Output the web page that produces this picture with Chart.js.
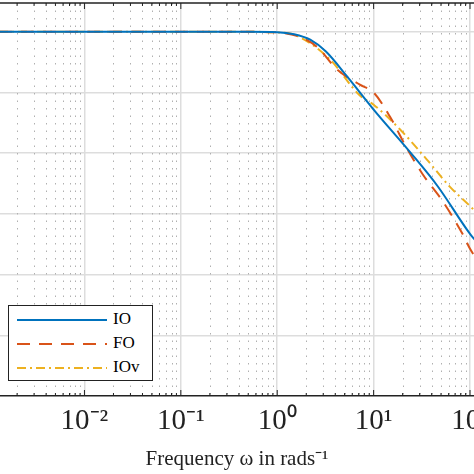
<!DOCTYPE html>
<html>
<head>
  <title></title>
  <style>
    body { margin: 0; background: #fff; }
    #wrap { position: relative; width: 474px; height: 474px; overflow: hidden; }
    #legend { position: absolute; left: 8px; top: 305px; width: 143px; height: 74px; border: 1.5px solid #222; background: #fff;
      font-family: "Liberation Serif", serif; font-size: 17px; }
    #legend div { height: 23px; line-height: 23px; margin-top: 1px; }
    #legend svg { vertical-align: middle; margin-left: 8px; margin-right: 6px; }
  </style>
</head>
<body>
  <div id="wrap">
    <canvas id="myChart" width="474" height="474"></canvas>
    <div id="legend">
      <div><svg width="90" height="6"><line x1="0" y1="3" x2="90" y2="3" stroke="#0072BD" stroke-width="2"/></svg>IO</div>
      <div><svg width="90" height="6"><line x1="0" y1="3" x2="90" y2="3" stroke="#D95319" stroke-width="2" stroke-dasharray="13,9"/></svg>FO</div>
      <div><svg width="90" height="6"><line x1="0" y1="3" x2="90" y2="3" stroke="#EDB120" stroke-width="2" stroke-dasharray="9,4,2,4"/></svg>IOv</div>
    </div>
  </div>
  <script src="https://cdn.jsdelivr.net/npm/chart.js"></script>
  <script>
    var freqIO = [0.0013, 0.1, 0.5, 1, 1.5, 2.2, 3.2, 5.3, 10, 24, 46, 100, 112];
    var magIO = [0, 0, 0, -0.1, -0.8, -2.6, -6.5, -14.7, -25.6, -39.7, -50.8, -66.6, -68.5];
    var freqFO = [0.0013, 0.1, 0.5, 1, 1.7, 2.6, 4.2, 7.2, 10, 14.8, 22.4, 32.4, 52.5, 85, 100, 112];
    var magFO = [0, 0, 0, -0.2, -1.6, -5, -12.5, -17.4, -20, -28, -38.7, -47, -56, -67, -71.5, -74];
    var freqIOv = [0.0013, 0.1, 0.5, 1, 1.6, 3.5, 7.2, 10, 18.6, 35.5, 61.6, 100, 112];
    var magIOv = [0, 0, 0, -0.2, -1.3, -9, -21, -24, -32, -42, -51, -57.4, -59];
    var supers = {'-3': '⁻³', '-2': '⁻²', '-1': '⁻¹', '0': '⁰', '1': '¹', '2': '²'};

    function pts(xs, ys) {
      var out = [];
      for (var i = 0; i < xs.length; i++) out.push({x: xs[i], y: ys[i]});
      return out;
    }

    var minorGrid = {
      id: 'minorGrid',
      beforeDatasetsDraw: function (chart) {
        var c = chart.ctx, xs = chart.scales.x, a = chart.chartArea;
        c.save();
        c.strokeStyle = '#b0b0b0';
        c.lineWidth = 1;
        c.setLineDash([1.5, 6]);
        for (var d = -3; d <= 2; d++) {
          for (var m = 2; m <= 9; m++) {
            var v = m * Math.pow(10, d);
            if (v < xs.min || v > xs.max) continue;
            var px = Math.round(xs.getPixelForValue(v)) + 0.5;
            c.beginPath(); c.moveTo(px, a.top); c.lineTo(px, a.bottom); c.stroke();
          }
        }
        c.restore();
      },
      afterDraw: function (chart) {
        var c = chart.ctx, xs = chart.scales.x, a = chart.chartArea;
        c.save();
        c.strokeStyle = '#222';
        c.lineWidth = 1.5;
        c.beginPath(); c.moveTo(a.left, a.top); c.lineTo(a.right, a.top); c.stroke();
        c.lineWidth = 1;
        for (var d = -3; d <= 2; d++) {
          for (var m = 1; m <= 9; m++) {
            var v = m * Math.pow(10, d);
            if (v < xs.min || v > xs.max) continue;
            var px = xs.getPixelForValue(v), len = m === 1 ? 6 : 3;
            c.beginPath(); c.moveTo(px, a.top); c.lineTo(px, a.top + len); c.stroke();
            c.beginPath(); c.moveTo(px, a.bottom); c.lineTo(px, a.bottom - len); c.stroke();
          }
        }
        c.restore();
      }
    };

    var ctx = document.getElementById('myChart').getContext('2d');
    var chart = new Chart(ctx, {
      type: 'line',
      data: {
        datasets: [
          { label: 'IO', data: pts(freqIO, magIO), borderColor: '#0072BD', borderWidth: 2, pointRadius: 0, cubicInterpolationMode: 'monotone' },
          { label: 'FO', data: pts(freqFO, magFO), borderColor: '#D95319', borderWidth: 2, borderDash: [13, 9], pointRadius: 0, cubicInterpolationMode: 'monotone' },
          { label: 'IOv', data: pts(freqIOv, magIOv), borderColor: '#EDB120', borderWidth: 2, borderDash: [9, 4, 2, 4], pointRadius: 0, cubicInterpolationMode: 'monotone' }
        ]
      },
      options: {
        responsive: false,
        animation: false,
        layout: { padding: { top: 3, right: 0, left: 0, bottom: 2 } },
        plugins: { legend: { display: false }, tooltip: { enabled: false } },
        scales: {
          x: {
            type: 'logarithmic',
            min: 0.00133,
            max: 110,
            border: { color: '#222', width: 1.5 },
            grid: { color: '#ddd', lineWidth: 1.5, drawTicks: false },
            afterBuildTicks: function (s) {
              s.ticks = [0.01, 0.1, 1, 10, 100].map(function (v) { return {value: v}; });
            },
            afterFit: function (s) { s.paddingLeft = 0; s.paddingRight = 0; },
            ticks: {
              autoSkip: false, maxRotation: 0, color: '#222', padding: 8,
              font: { family: 'Liberation Serif', size: 29 },
              callback: function (v) { return '10' + supers[String(Math.round(Math.log10(v)))]; }
            },
            title: { display: true, text: 'Frequency ω in rads⁻¹', color: '#222', font: { family: 'Liberation Serif', size: 21 }, padding: { top: 0, bottom: 0 } }
          },
          y: {
            min: -120,
            max: 9.5,
            afterBuildTicks: function (s) {
              s.ticks = [0, -20, -40, -60, -80, -100].map(function (v) { return {value: v}; });
            },
            afterFit: function (s) { s.width = 0; },
            border: { display: false },
            grid: { color: '#ddd', lineWidth: 1.5, drawTicks: false },
            ticks: { display: false }
          }
        }
      },
      plugins: [minorGrid]
    });
  </script>
</body>
</html>
